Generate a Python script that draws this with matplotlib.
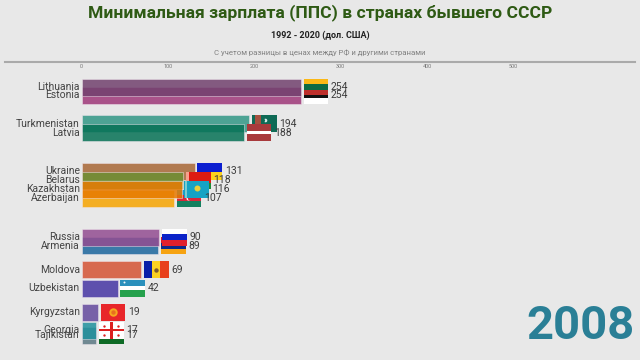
import matplotlib
matplotlib.use("Agg")
import matplotlib.pyplot as plt
from matplotlib.patches import Rectangle

countries = ["Estonia", "Lithuania", "Turkmenistan", "Latvia", "Ukraine", "Belarus",
             "Azerbaijan", "Kazakhstan", "Armenia", "Russia", "Moldova", "Uzbekistan",
             "Kyrgyzstan", "Tajikistan", "Georgia"]
values = [254, 254, 194, 188, 131, 118, 107, 116, 89, 90, 69, 42, 19, 17, 17]
tick_values = [0, 100, 200, 300, 400, 500]
year_label = "2008"

# vertical slot of each country (pixels from the top of the frame)
slots = [95.3, 87, 123.8, 132.5, 171.5, 180.2, 198, 189, 245.7, 237, 269.7, 288, 312, 335, 330.3]
bar_colors = ["#9e3879", "#72416e", "#329785", "#067155", "#a86735", "#6c8f32", "#f7a400",
              "#e67900", "#1b669d", "#934d91", "#d55334", "#4635a3", "#63499d", "#5b7983", "#21919d"]

BG = "#e8e8e8"
PX_PER_UNIT = 0.864
X0 = 81.5
BAR_H = 17.0
FLAG_W = 24.7 / PX_PER_UNIT
GAP = 2.7 / PX_PER_UNIT

plt.rcParams["font.family"] = ["Roboto", "Open Sans", "DejaVu Sans"]
fig = plt.figure(figsize=(6.4, 3.6), dpi=100, facecolor=BG)
ax = fig.add_axes([X0 / 640, 0, (640 - X0) / 640, 290 / 360])
ax.set_facecolor("none")
ax.set_xlim(0, (640 - X0) / PX_PER_UNIT)
ax.set_ylim(360, 70)
for s in ax.spines.values():
    s.set_visible(False)
ax.set_yticks([])
ax.set_xticks(tick_values)
ax.xaxis.tick_top()
ax.tick_params(axis="x", length=0, pad=0.5, labelsize=4, labelcolor="#777777")


def draw_flag(name, x0, yc, z):
    top = yc - BAR_H / 2

    def rect(u0, v0, u1, v1, color):
        ax.add_patch(Rectangle((x0 + u0 * FLAG_W, top + v0 * BAR_H), (u1 - u0) * FLAG_W,
                               (v1 - v0) * BAR_H, fc=color, ec="none", zorder=z))

    def disc(u, v, r, color):
        ax.scatter([x0 + u * FLAG_W], [top + v * BAR_H], s=(2 * r * 0.72) ** 2, c=color,
                   linewidths=0, zorder=z + 0.1)

    def hstripes(colors, weights=None):
        weights = weights or [1] * len(colors)
        tot, acc = sum(weights), 0
        for c, w in zip(colors, weights):
            rect(0, acc / tot, 1, (acc + w) / tot, c)
            acc += w

    def vstripes(colors):
        for i, c in enumerate(colors):
            rect(i / len(colors), 0, (i + 1) / len(colors), 1, c)

    if name == "Estonia":
        hstripes(["#0f62b0", "#111111", "#ffffff"])
    elif name == "Lithuania":
        hstripes(["#fbb816", "#0d6a44", "#bd2f2b"])
    elif name == "Turkmenistan":
        rect(0, 0, 1, 1, "#0f6a55")
        rect(0.14, 0, 0.36, 1, "#a5503f")
        disc(0.52, 0.25, 1.8, "#d8ece8")
        disc(0.47, 0.25, 1.6, "#0f6a55")
    elif name == "Latvia":
        hstripes(["#a83a3c", "#ffffff", "#a83a3c"], [2, 1, 2])
    elif name == "Ukraine":
        hstripes(["#0b1ed0", "#fdd21c"])
    elif name == "Belarus":
        hstripes(["#dd1b12", "#1b8a35"], [2, 1])
        rect(0, 0, 0.11, 1, "#f7a08e")
    elif name == "Azerbaijan":
        hstripes(["#1a9fd0", "#d8283a", "#14805f"])
        disc(0.45, 0.5, 2.0, "#ffffff")
        disc(0.5, 0.5, 1.7, "#d8283a")
    elif name == "Kazakhstan":
        rect(0, 0, 1, 1, "#16a3c4")
        rect(0.02, 0, 0.1, 1, "#7ccdd0")
        disc(0.52, 0.45, 3.0, "#e8cf3a")
    elif name == "Armenia":
        hstripes(["#d8182a", "#0a2a8a", "#f6a312"])
    elif name == "Russia":
        hstripes(["#ffffff", "#0a22c8", "#e0202c"])
    elif name == "Moldova":
        vstripes(["#0a1fa8", "#fbd122", "#e8401c"])
        disc(0.5, 0.5, 2.2, "#7a5a30")
    elif name == "Uzbekistan":
        hstripes(["#2a90bc", "#ffffff", "#25a04c"], [5, 4, 5])
        disc(0.13, 0.16, 1.0, "#eef6fa")
    elif name == "Kyrgyzstan":
        rect(0, 0, 1, 1, "#e8262a")
        disc(0.5, 0.5, 4.2, "#f7a81e")
        disc(0.5, 0.5, 2.2, "#e8701e")
    elif name == "Tajikistan":
        hstripes(["#d81e28", "#ffffff", "#0e6a25"], [2, 3, 2])
    elif name == "Georgia":
        rect(0, 0, 1, 1, "#ffffff")
        rect(0, 0.43, 1, 0.57, "#dc2020")
        rect(0.44, 0, 0.56, 1, "#dc2020")
        for u, v in [(0.22, 0.22), (0.78, 0.22), (0.22, 0.78), (0.78, 0.78)]:
            disc(u, v, 1.2, "#dc2020")


for i, (name, val, yc, col) in enumerate(zip(countries, values, slots, bar_colors)):
    z = 3 + i
    ax.barh(yc, val, height=BAR_H, color=col, alpha=0.85, edgecolor="#f0e6ee",
            linewidth=0.4, zorder=z)
    draw_flag(name, val + GAP, yc, z)
    ax.text(val + 2 * GAP + FLAG_W, yc, f"{val}", ha="left", va="center", fontsize=7.5,
            color="#3c3c3c", zorder=40, clip_on=False)
    ax.text(-1.7 / PX_PER_UNIT, yc, name, ha="right", va="center", fontsize=7.5,
            color="#444444", zorder=40, clip_on=False)

# header
fig.text(320 / 640, 1 - 13 / 360, "Минимальная зарплата (ППС) в странах бывшего СССР",
         ha="center", va="center", fontsize=12.6, fontweight="bold", color="#2e5a14")
fig.text(320 / 640, 1 - 35 / 360, "1992 - 2020 (дол. США)", ha="center", va="center",
         fontsize=6.5, fontweight="bold", color="#222222")
fig.text(320 / 640, 1 - 52.5 / 360, "С учетом разницы в ценах между РФ и другими странами",
         ha="center", va="center", fontsize=5.6, color="#808080")
fig.add_artist(plt.Line2D([5 / 640, 635 / 640], [1 - 62 / 360] * 2, color="#aaaaaa", lw=1.5))
fig.text(635 / 640, 1 - 326 / 360, year_label, ha="right", va="center", fontsize=34,
         fontweight="bold", color="#2a7f96")

fig.savefig("out.png", dpi=100, facecolor=BG)
